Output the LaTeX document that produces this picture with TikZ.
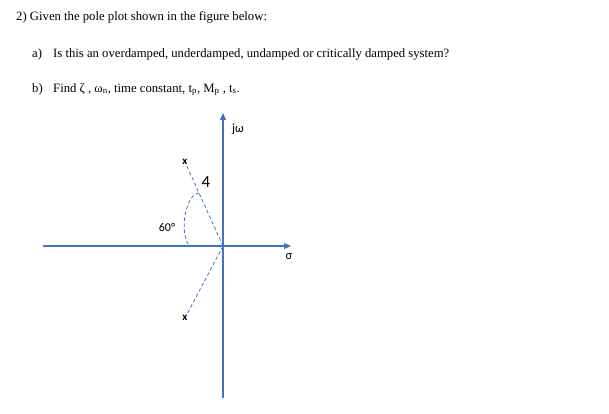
\documentclass[tikz,border=0pt]{standalone}
\usepackage{fontspec}
\setmainfont{Liberation Serif}
\newfontfamily\calibri{Carlito}
\usetikzlibrary{arrows.meta, calc, math}
\definecolor{axisblue}{RGB}{68,114,196}

\begin{document}
\begin{tikzpicture}[x=1bp, y=-1bp, >={Triangle[length=7bp,width=6bp]},
  axis/.style={color=axisblue, line width=1.2bp},
  guide/.style={color=axisblue, line width=0.8bp, dash pattern=on 3.5bp off 2.5bp},
  pole/.style={font=\calibri\bfseries\fontsize{11}{13}\selectfont, inner sep=1.5bp},
  lbl/.style={font=\calibri\fontsize{12.5}{15}\selectfont, inner sep=0pt},
  txt/.style={anchor=base west, inner sep=0pt, font=\fontsize{12.75}{15}\selectfont}]

\useasboundingbox (0,0) rectangle (609,413);

\tikzmath{
  \ox = 223; \oy = 246;
}

% question text
\node[txt] (q)  at (16,20.5) {2) Given the pole plot shown in the figure below:};
\node[txt] (qa) at (32,57)   {a)};
\node[txt] (ta) at (53,57)   {Is this an overdamped, underdamped, undamped or critically damped system?};
\node[txt] (qb) at (32,92)   {b)};
\node[txt] (tb) at (53,92)   {Find ζ , ω\textsubscript{n}, time constant, t\textsubscript{p}, M\textsubscript{p} , t\textsubscript{s}.};

% axes
\coordinate (o)  at (\ox,\oy);
\coordinate (xl) at (43,\oy);
\coordinate (xr) at (291,\oy);
\coordinate (yb) at (\ox,398);
\coordinate (yt) at (\ox,113);
\draw[axis, ->] (xl) -- (xr);
\draw[axis, ->] (yb) -- (yt);
\node[lbl, anchor=west] (jw) at (232,129) {jω};
\node[lbl] (sig) at (289,257) {σ};

% poles
\node[pole] (p1) at (185,162) {x};
\node[pole] (p2) at (185,318) {x};
\draw[guide] (o) -- (p1);
\draw[guide] (o) -- (p2);
\node[lbl, font=\calibri\fontsize{17}{19}\selectfont] (r) at (206,182) {4};

% angle
\coordinate (a1) at (199,193);
\coordinate (a2) at (190,247);
\draw[guide] (a1) .. controls (186,194) and (178,232) .. (a2);
\node[lbl, font=\calibri\fontsize{12}{14}\selectfont] (ang) at (167,227) {60°};

\end{tikzpicture}
\end{document}
